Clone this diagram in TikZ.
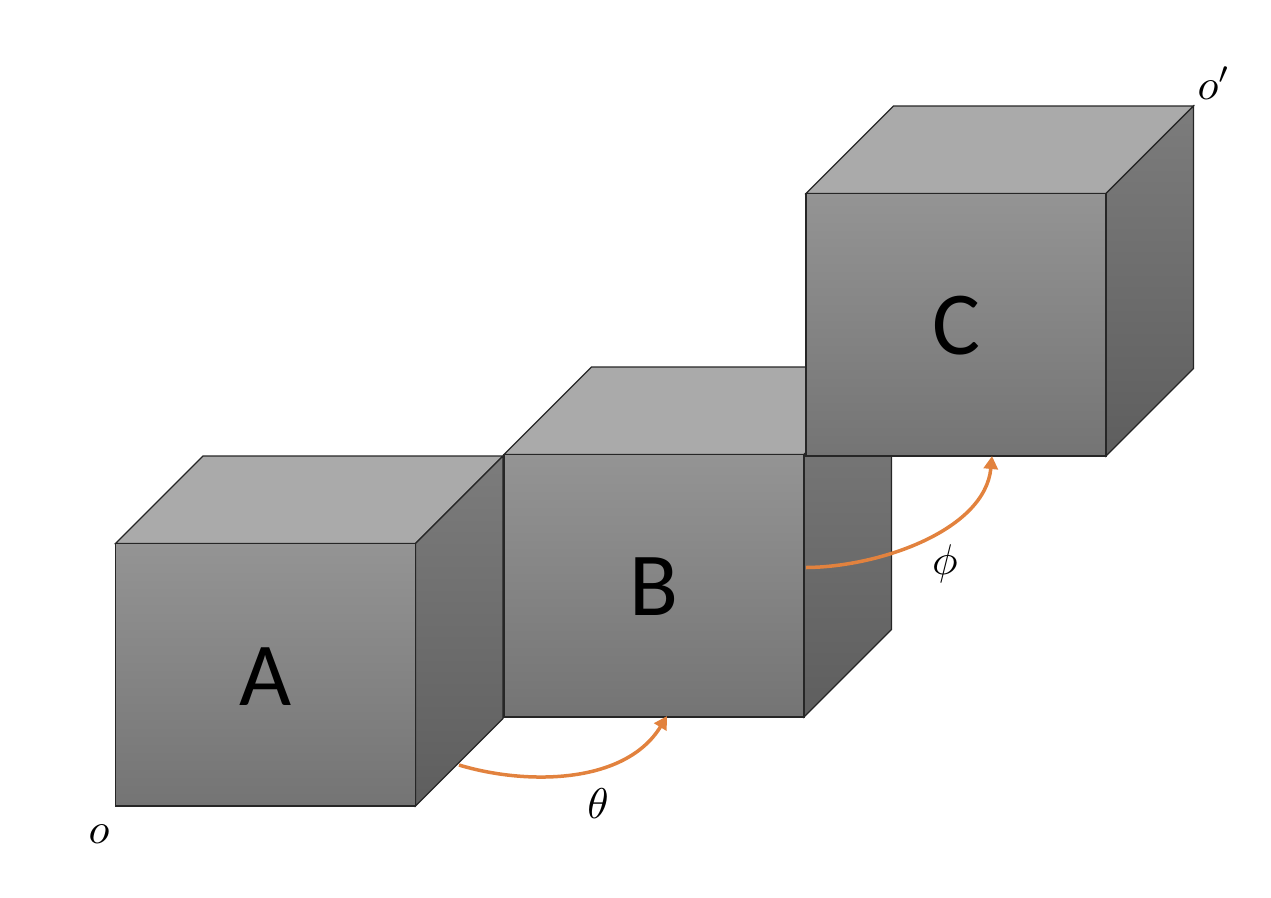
\documentclass[tikz,border=0pt]{standalone}
\usepackage{graphicx}
\usepackage{fontspec}
\setmainfont{Carlito}
\usetikzlibrary{arrows.meta}
\newcommand{\bigmath}[1]{\scalebox{4.3}{$#1$}}
\tikzset{
  face/.style={draw=black!85,line width=1.3pt,line join=miter},
  frontface/.style={face,top color=frontlight,bottom color=frontdark},
  sideface/.style={face,top color=sidelight,bottom color=sidedark},
  topface/.style={face,top color=toplight,bottom color=topdark},
  cubelabel/.style={font=\fontsize{90}{90}\selectfont,text=black,inner sep=0pt},
  mathlabel/.style={text=black,inner sep=0pt},
  turn/.style={draw=turnorange,line width=3.5pt,-{Triangle[length=13pt,width=14pt]}}
}
\definecolor{frontlight}{RGB}{148,148,148}
\definecolor{frontdark}{RGB}{116,116,116}
\definecolor{sidelight}{RGB}{124,124,124}
\definecolor{sidedark}{RGB}{94,94,94}
\definecolor{toplight}{RGB}{170,170,170}
\definecolor{topdark}{RGB}{170,170,170}
\definecolor{turnorange}{RGB}{226,130,62}
% #1 left, #2 top of front face
\newcommand{\drawcube}[2]{%
  \path[topface] (#1,#2) -- ++(87.5,-87.5) -- ++(300,0) -- ++(-87.5,87.5) -- cycle;
  \path[sideface] (#1+300,#2) -- ++(87.5,-87.5) -- ++(0,262.5) -- ++(-87.5,87.5) -- cycle;
  \path[frontface] (#1,#2) rectangle ++(300,262.5);
}
\begin{document}
\begin{tikzpicture}[x=1pt,y=-1pt]
\useasboundingbox (0,0) rectangle (1271,897);
\drawcube{115.5}{543.5}
\drawcube{504}{454.5}
\drawcube{806}{193.5}
\node[cubelabel] (a) at (266,677) {A};
\node[cubelabel] (b) at (654,587) {B};
\node[cubelabel] (c) at (956,326) {C};
\coordinate (t0) at (459,765);
\coordinate (t1) at (667,716);
\coordinate (p0) at (806,567.5);
\coordinate (p1) at (992,456);
\path[turn] (t0) .. controls (525,785) and (625,785) .. (t1);
\path[turn] (p0) .. controls (880,567) and (985,530) .. (p1);
\node[mathlabel] (theta) at (598,804) {\bigmath{\theta}};
\node[mathlabel] (phi) at (945,564) {\bigmath{\phi}};
\node[mathlabel] (o) at (99,834) {\bigmath{o}};
\node[mathlabel] (op) at (1214,83) {\bigmath{o'}};
\end{tikzpicture}
\end{document}
